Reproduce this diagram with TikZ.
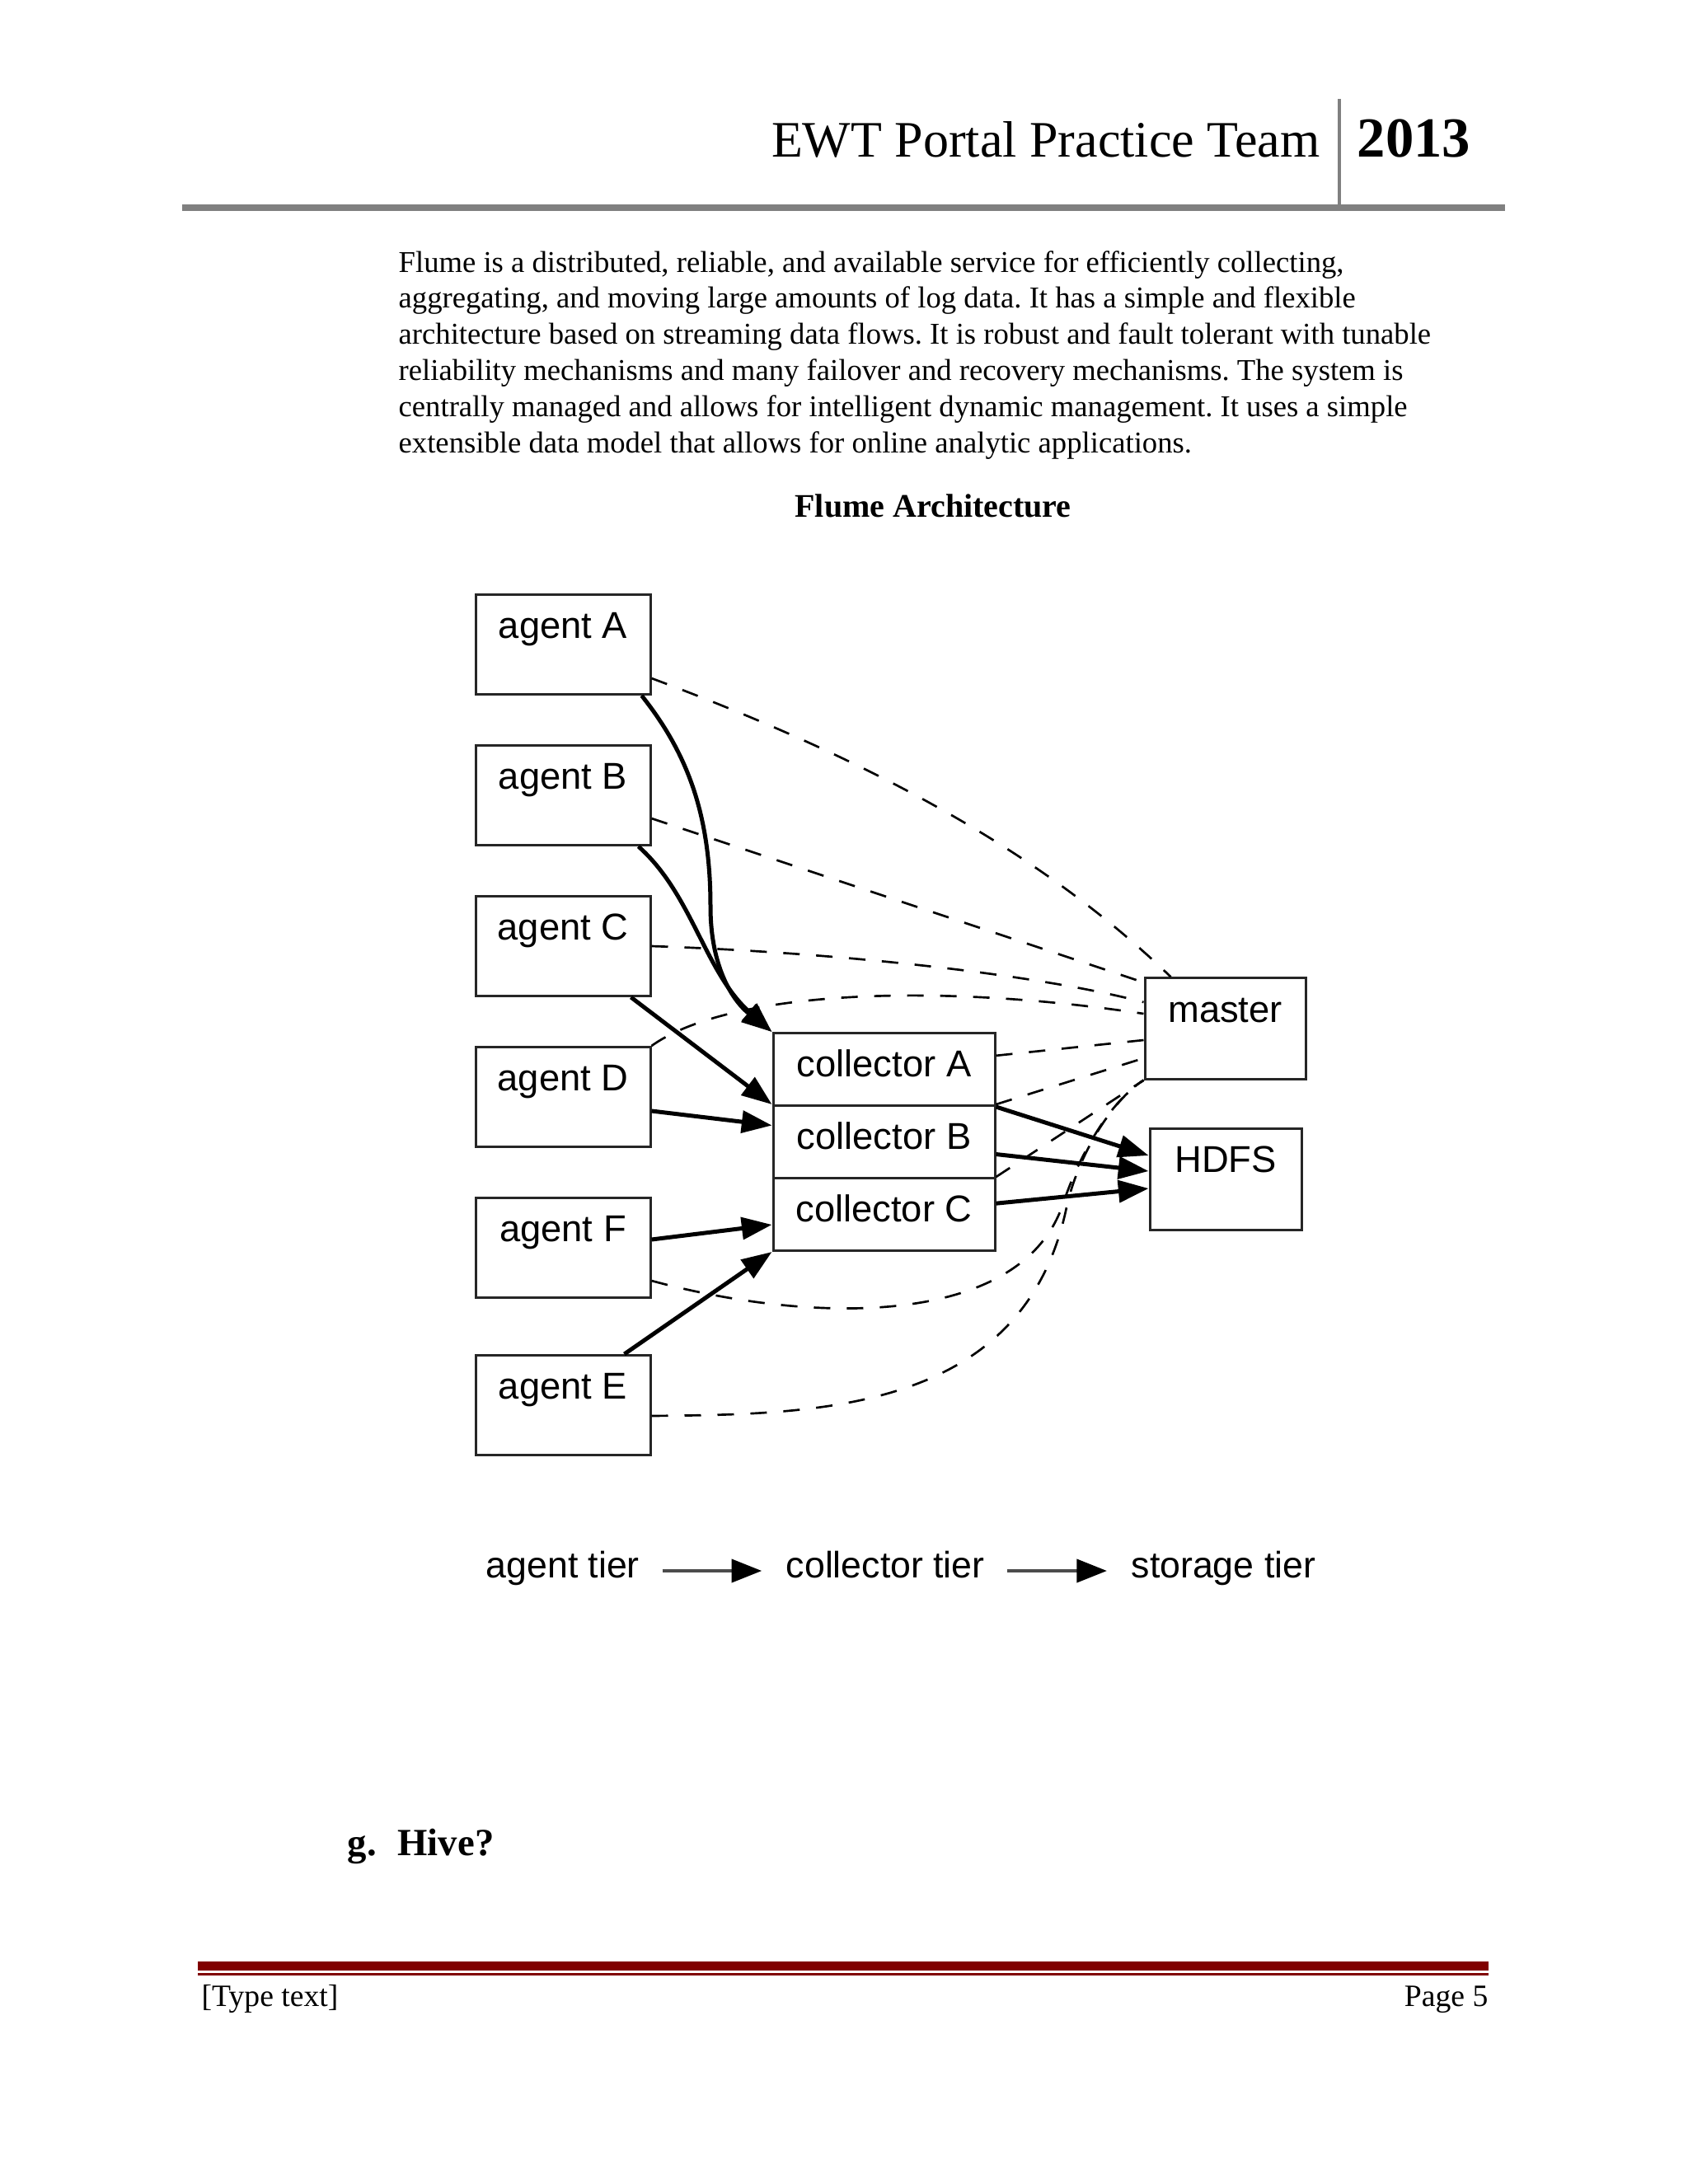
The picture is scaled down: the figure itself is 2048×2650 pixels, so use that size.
\documentclass[tikz,border=0pt]{standalone}
\usepackage{fontspec}
\setmainfont{Liberation Serif}
\newfontfamily\bodyfont{Liberation Serif}
\newfontfamily\diagfont{Liberation Sans}
\usetikzlibrary{arrows.meta, positioning}
\definecolor{footred}{RGB}{128,0,0}
\frenchspacing
\tikzset{
    nodebox/.style = {
        rectangle, draw=black!85, line width=0.9pt,
        inner sep=0pt, text height=16pt,
        font=\diagfont\fontsize{13.6pt}{15pt}\selectfont
    },
    agent/.style = {
        nodebox, minimum width=63.6pt, text depth=20.3pt
    },
    collector/.style = {
        nodebox, minimum width=80.7pt, text depth=10.4pt
    },
    server/.style = {
        nodebox, text depth=20.7pt
    },
    dataflow/.style = {
        -{Triangle[length=11pt, width=8pt]}, line width=1.5pt
    },
    ctrlflow/.style = {
        dash pattern=on 6pt off 6pt, line width=0.8pt
    },
    tier/.style = {
        inner sep=0pt, text height=9.6pt, text depth=4.8pt,
        font=\diagfont\fontsize{13.4pt}{15pt}\selectfont
    },
    tierarrow/.style = {
        -{Triangle[length=11pt, width=8.4pt, color=black]},
        draw=black!70, line width=1.2pt,
        shorten <=8.1pt, shorten >=8.7pt
    },
    bodyline/.style = {
        anchor=base west, inner sep=0pt,
        font=\bodyfont\fontsize{11pt}{13pt}\selectfont
    }
}

\begin{document}
\begin{tikzpicture}[x=0.3pt, y=-0.3pt, node distance=54.9pt]
\fill[white] (0,0) rectangle (2048,2650);
\useasboundingbox (0,0) rectangle (2048,2650);

% page header
\node (head) [anchor=base east, inner sep=0pt, font=\fontsize{18.6pt}{22pt}\selectfont] at (1602,190) {EWT Portal Practice Team};
\node (year) [anchor=base west, inner sep=0pt, font=\bfseries\fontsize{20.6pt}{24pt}\selectfont] at (1646,190) {2013};
\fill[gray] (1623,120) rectangle (1627,250);
\fill[gray] (221,248) rectangle (1826,256);

% text above the figure
\node (par1) [bodyline] at (483,330) {Flume is a distributed, reliable, and available service for efficiently collecting,};
\node (par2) [bodyline] at (483,373.8) {aggregating, and moving large amounts of log data. It has a simple and flexible};
\node (par3) [bodyline] at (483,417.6) {architecture based on streaming data flows. It is robust and fault tolerant with tunable};
\node (par4) [bodyline] at (483,461.4) {reliability mechanisms and many failover and recovery mechanisms. The system is};
\node (par5) [bodyline] at (483,505.2) {centrally managed and allows for intelligent dynamic management. It uses a simple};
\node (par6) [bodyline] at (483,549) {extensible data model that allows for online analytic applications.};
\node (title) [bodyline, anchor=base, font=\bodyfont\bfseries\fontsize{12pt}{14pt}\selectfont] at (1132,627) {Flume Architecture};

% agent tier
\node (agA) [agent] at (683,782) {agent A};
\node (agB) [agent, below of=agA] {agent B};
\node (agC) [agent, below of=agB] {agent C};
\node (agD) [agent, below of=agC] {agent D};
\node (agF) [agent, below of=agD] {agent F};
\node (agE) [agent, below of=agF, yshift=-2.4pt] {agent E};

% collector tier
\node (colA) [collector] at (1072.5,1297.5) {collector A};
\node (colB) [collector, below of=colA, node distance=26.4pt] {collector B};
\node (colC) [collector, below of=colB, node distance=26.4pt] {collector C};

% master and storage
\node (master) [server, minimum width=58.5pt] at (1486.5,1248) {master};
\node (hdfs) [server, minimum width=55.2pt, text depth=20.9pt] at (1487,1430.5) {HDFS};

% control lines to the master
\draw [ctrlflow] ([yshift=-12.3pt]agA.east) .. controls (1089,934) and (1280,1050) .. ([xshift=9.9pt]master.north west);
\draw [ctrlflow] ([yshift=-8.4pt]agB.east) -- ([yshift=16.8pt]master.west);
\draw [ctrlflow] (agC.east) .. controls (1000,1155) and (1250,1180) .. ([yshift=9.6pt]master.west);
\draw [ctrlflow] (agD.north east) .. controls (880,1205) and (1120,1190) .. ([yshift=5.4pt]master.west);
\draw [ctrlflow] ([yshift=5pt]colA.east) -- ([yshift=-4.2pt]master.west);
\draw [ctrlflow] (colB.north east) -- ([yshift=-10.8pt]master.west);
\draw [ctrlflow] (colC.north east) -- (master.south west);
\draw [ctrlflow] ([yshift=-12pt]agF.east) .. controls (990,1608) and (1240,1610) .. (1290,1460) .. controls (1310,1400) and (1347,1336.5) .. (master.south west);
\draw [ctrlflow] ([yshift=-3.9pt]agE.east) .. controls (990,1716) and (1241.5,1715) .. (1294,1465) .. controls (1307,1405) and (1347,1336.5) .. (master.south west);

% data flows
\draw [dataflow] ([xshift=-3.6pt]agA.south east) .. controls (835,915) and (862,990) .. (862,1100) .. controls (862,1175) and (890,1215) .. (colA.north west);
\draw [dataflow] ([xshift=-4.8pt]agB.south east) .. controls (840,1085) and (855,1180) .. (colA.north west);
\draw [dataflow] ([xshift=-7.5pt]agC.south east) -- (colB.north west);
\draw [dataflow] ([yshift=-5.1pt]agD.east) -- ([yshift=6pt]colB.west);
\draw [dataflow] ([yshift=3pt]agF.east) -- ([yshift=-3.75pt]colC.west);
\draw [dataflow] ([xshift=-9.9pt]agE.north east) -- (colC.south west);
\draw [dataflow] (colA.south east) -- ([yshift=8.55pt]hdfs.west);
\draw [dataflow] ([yshift=-4.5pt]colB.east) -- ([yshift=2.85pt]hdfs.west);
\draw [dataflow] ([yshift=4pt]colC.east) -- ([yshift=-3.45pt]hdfs.west);

% tiers
\node (tierAg) [tier, anchor=west] at (589,1906) {agent tier};
\node (tierCol) [tier, right=53pt of tierAg] {collector tier};
\node (tierSto) [tier, right=53pt of tierCol] {storage tier};
\draw [tierarrow] (tierAg) -- (tierCol);
\draw [tierarrow] (tierCol) -- (tierSto);

% next heading
\node (gnum) [anchor=base west, inner sep=0pt, font=\bfseries\fontsize{14pt}{16pt}\selectfont] at (421,2251) {g.};
\node (hive) [anchor=base west, inner sep=0pt, font=\bfseries\fontsize{14pt}{16pt}\selectfont] at (482,2251) {Hive?};

% page footer
\fill[footred] (240,2380) rectangle (1806,2391);
\fill[footred] (240,2394) rectangle (1806,2397);
\node (foot) [anchor=base west, inner sep=0pt, font=\fontsize{11.3pt}{13pt}\selectfont] at (244,2434) {[Type text]};
\node (page) [anchor=base east, inner sep=0pt, font=\fontsize{11.3pt}{13pt}\selectfont] at (1806,2434) {Page 5};
\end{tikzpicture}
\end{document}
